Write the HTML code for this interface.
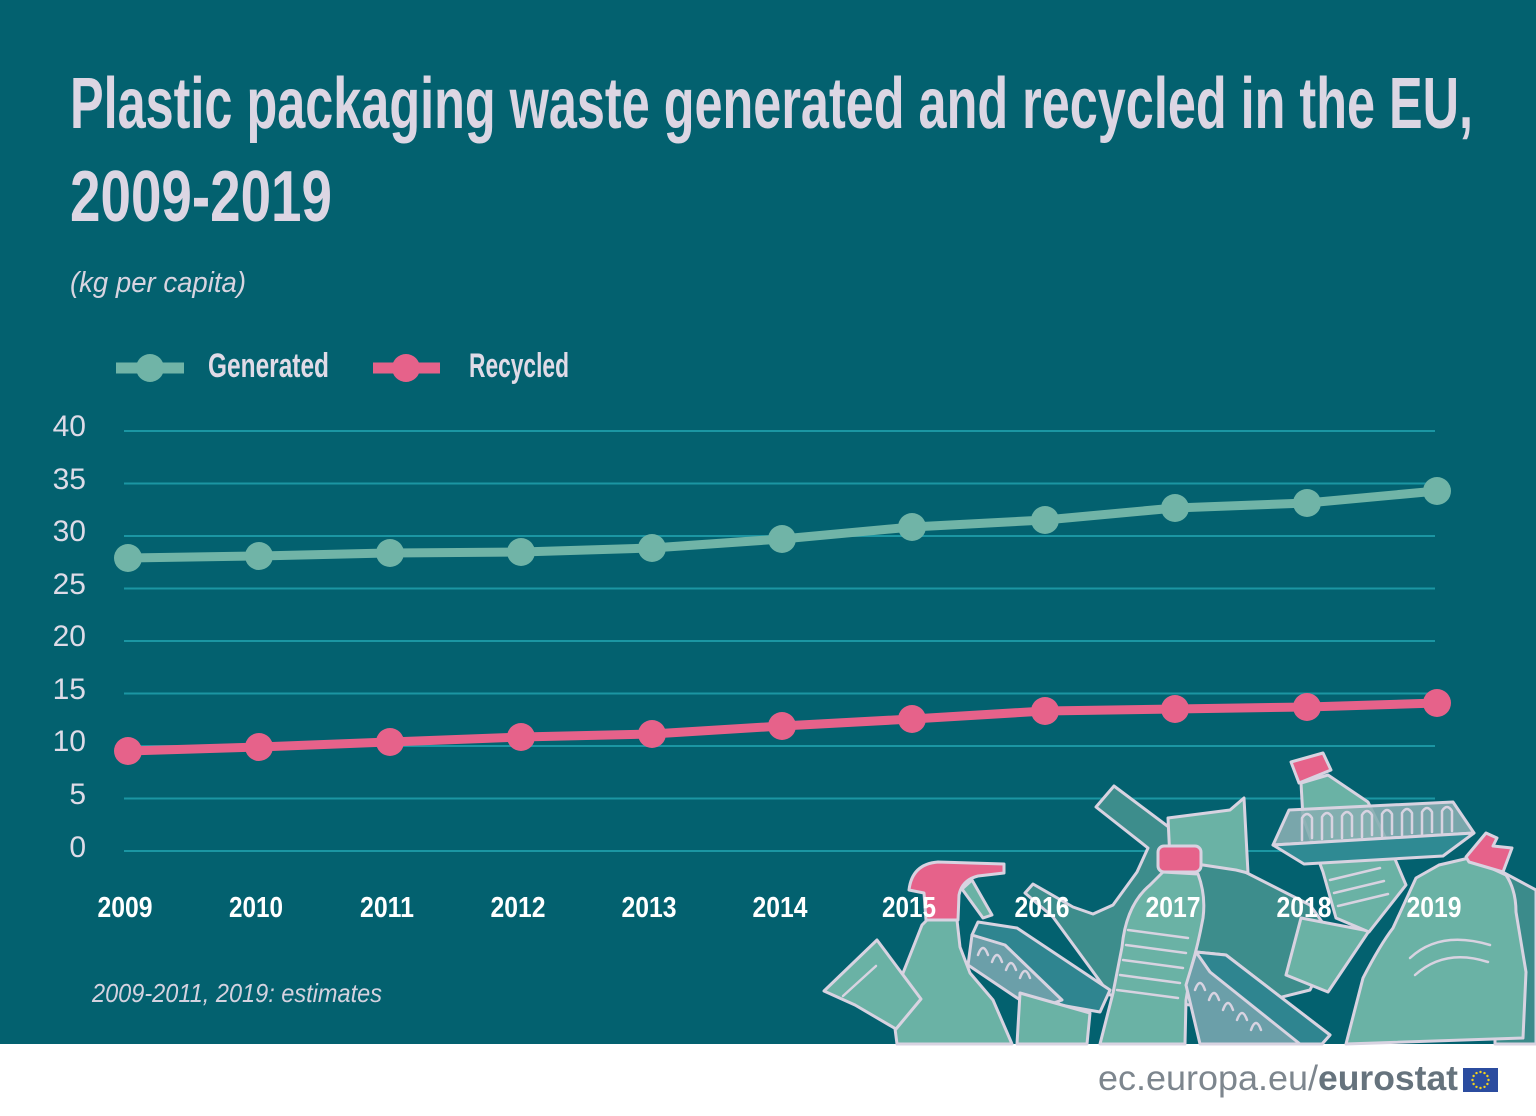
<!DOCTYPE html>
<html>
<head>
<meta charset="utf-8">
<style>
  html, body { margin: 0; padding: 0; background: #ffffff; }
  body { width: 1536px; height: 1116px; overflow: hidden; }
  svg { display: block; }
</style>
</head>
<body>
<svg width="1536" height="1116" viewBox="0 0 1536 1116" xmlns="http://www.w3.org/2000/svg" font-family="'Liberation Sans', sans-serif">
  <!-- backgrounds -->
  <rect x="0" y="0" width="1536" height="1044" fill="#03616f"/>
  <rect x="0" y="1044" width="1536" height="72" fill="#ffffff"/>

  <!-- title -->
  <text x="70" y="128" font-size="72" font-weight="bold" fill="#dcd6e3" textLength="1403" lengthAdjust="spacingAndGlyphs">Plastic packaging waste generated and recycled in the EU,</text>
  <text x="70" y="221" font-size="72" font-weight="bold" fill="#dcd6e3" textLength="262" lengthAdjust="spacingAndGlyphs">2009-2019</text>
  <text x="70" y="292" font-size="29" font-style="italic" fill="#d8d4e0" textLength="176" lengthAdjust="spacingAndGlyphs">(kg per capita)</text>

  <!-- legend -->
  <line x1="116" y1="368" x2="184" y2="368" stroke="#70b4a7" stroke-width="11"/>
  <circle cx="150" cy="368" r="14" fill="#70b4a7"/>
  <text x="208" y="377" font-size="34" font-weight="bold" fill="#e0dbe7" textLength="121" lengthAdjust="spacingAndGlyphs">Generated</text>
  <line x1="373" y1="368" x2="440" y2="368" stroke="#e6628a" stroke-width="11"/>
  <circle cx="406" cy="368" r="14" fill="#e6628a"/>
  <text x="469" y="377" font-size="34" font-weight="bold" fill="#e0dbe7" textLength="100" lengthAdjust="spacingAndGlyphs">Recycled</text>

  <!-- gridlines -->
  <g stroke="#1b96a3" stroke-width="2">
    <line x1="124" y1="431" x2="1435" y2="431"/>
    <line x1="124" y1="483.5" x2="1435" y2="483.5"/>
    <line x1="124" y1="536" x2="1435" y2="536"/>
    <line x1="124" y1="588.5" x2="1435" y2="588.5"/>
    <line x1="124" y1="641" x2="1435" y2="641"/>
    <line x1="124" y1="693.5" x2="1435" y2="693.5"/>
    <line x1="124" y1="746" x2="1435" y2="746"/>
    <line x1="124" y1="798.5" x2="1435" y2="798.5"/>
    <line x1="124" y1="851" x2="1435" y2="851"/>
  </g>

  <!-- y labels -->
  <g font-size="30" fill="#dedbe7" text-anchor="end">
    <text x="86" y="436">40</text>
    <text x="86" y="489">35</text>
    <text x="86" y="541">30</text>
    <text x="86" y="594">25</text>
    <text x="86" y="646">20</text>
    <text x="86" y="699">15</text>
    <text x="86" y="751">10</text>
    <text x="86" y="804">5</text>
    <text x="86" y="857">0</text>
  </g>

  <!-- illustration -->
  <g stroke="#d8d3e1" stroke-width="3" stroke-linejoin="round" stroke-linecap="round">
    <!-- far right dark piece -->
    <polygon points="1495,868 1536,890 1536,1044 1495,1044" fill="#3b8b8b"/>
    <!-- big jug -->
    <polygon points="1096,807 1114,786 1170,828 1245,872 1310,905 1335,940 1310,990 1230,1010 1110,995 1053,917 1025,893 1033,884 1073,907 1093,914 1113,905 1137,872 1148,848" fill="#3d8d8c"/>
    <!-- tray 1 -->
    <polygon points="978,922 1017,928 1110,990 1100,1012 1060,1005 972,935" fill="#2f8590"/>
    <polygon points="972,935 1005,945 1062,1000 1035,1010 968,965" fill="#6b9fa9"/>
    <path d="M978,955 q5,-14 10,0 M992,962 q5,-14 10,0 M1006,970 q5,-14 10,0 M1020,978 q5,-14 10,0" fill="none" stroke-width="2.5"/>
    <!-- spray bottle body -->
    <polygon points="927,920 957,920 960,947 970,973 993,1000 1012,1044 897,1044 893,1013 903,973 922,925" fill="#6ab2a5"/>
    <!-- nozzle tip -->
    <polygon points="962,889 972,880 992,915 983,918" fill="#6ab2a5"/>
    <!-- spray head -->
    <path d="M909,890 Q912,864 938,862 L1004,864 L1004,873 L978,876 Q962,880 959,895 L958,920 L926,920 L924,893 Z" fill="#e6628a"/>
    <!-- cup left -->
    <polygon points="824,991 877,940 921,999 896,1029 855,1005" fill="#6ab2a5"/>
    <line x1="843" y1="996" x2="876" y2="966" stroke-width="2.5"/>
    <!-- mint box bottom -->
    <polygon points="1020,993 1090,1013 1087,1044 1017,1044" fill="#6ab2a5"/>
    <!-- cup upper -->
    <polygon points="1168,818 1230,810 1244,798 1248,873 1236,870 1170,860" fill="#6ab2a5"/>
    <!-- 2017 bottle -->
    <path d="M1163,872 L1198,874 Q1206,895 1203,918 Q1198,945 1192,965 L1186,1000 L1185,1044 L1100,1044 L1113,993 L1122,947 Q1126,905 1150,885 Z" fill="#6ab2a5"/>
    <g stroke-width="2.5">
      <line x1="1128" y1="930" x2="1188" y2="938"/>
      <line x1="1126" y1="945" x2="1186" y2="953"/>
      <line x1="1123" y1="960" x2="1183" y2="968"/>
      <line x1="1120" y1="975" x2="1180" y2="983"/>
      <line x1="1117" y1="990" x2="1178" y2="998"/>
    </g>
    <rect x="1158" y="846" width="43" height="26" rx="6" fill="#e6628a"/>
    <!-- tray 2 -->
    <polygon points="1196,952 1226,955 1330,1035 1322,1044 1200,1044 1186,985" fill="#6b9fa9"/>
    <polygon points="1196,952 1226,955 1330,1035 1322,1044 1300,1044 1210,972" fill="#2f8590"/>
    <path d="M1195,990 q5,-14 10,0 M1209,1000 q5,-14 10,0 M1223,1010 q5,-14 10,0 M1237,1020 q5,-14 10,0 M1251,1030 q5,-14 10,0" fill="none" stroke-width="2.5"/>
    <!-- cup right-middle -->
    <polygon points="1301,918 1369,931 1328,992 1286,975" fill="#6ab2a5"/>
    <!-- 2018 bottle -->
    <polygon points="1301,783 1328,775 1368,802 1389,845 1406,885 1369,932 1336,918 1323,872 1303,818" fill="#6ab2a5"/>
    <g stroke-width="2.5">
      <line x1="1330" y1="880" x2="1380" y2="868"/>
      <line x1="1334" y1="893" x2="1384" y2="881"/>
      <line x1="1338" y1="906" x2="1388" y2="894"/>
    </g>
    <!-- clear container -->
    <polygon points="1289,810 1453,802 1474,833 1273,845" fill="#86aeb1" fill-opacity="0.9"/>
    <polygon points="1273,845 1474,833 1443,856 1304,864" fill="#2f8a93"/>
    <path d="M1302,840 v-22 q5,-8 10,0 v20 M1322,839 v-22 q5,-8 10,0 v20 M1342,838 v-22 q5,-8 10,0 v20 M1362,837 v-22 q5,-8 10,0 v20 M1382,836 v-22 q5,-8 10,0 v20 M1402,835 v-22 q5,-8 10,0 v20 M1422,834 v-22 q5,-8 10,0 v20 M1442,833 v-22 q5,-8 10,0 v20" fill="none" stroke-width="2.5"/>
    <!-- 2018 cap -->
    <polygon points="1291,762 1323,753 1331,770 1299,783" fill="#e6628a"/>
    <!-- 2019 bottle -->
    <path d="M1416,878 L1439,865 L1469,858 L1506,875 Q1516,890 1516,912 L1526,972 L1523,1038 L1346,1044 L1363,978 Q1380,945 1393,928 Z" fill="#6ab2a5"/>
    <path d="M1410,958 Q1440,930 1490,945 M1415,975 Q1445,948 1488,962" fill="none" stroke-width="2.5"/>
    <!-- 2019 cap -->
    <polygon points="1466,857 1486,833 1497,838 1493,846 1512,848 1503,872 1469,862" fill="#e6628a"/>
  </g>

  <!-- series lines -->
  <polyline points="128,558 259,556 390,553 521,552 652,548 782,539 912,527 1045,520 1175,508 1307,503 1437,491" fill="none" stroke="#70b4a7" stroke-width="9" stroke-linejoin="round"/>
  <g fill="#70b4a7">
    <circle cx="128" cy="558" r="14"/>
    <circle cx="259" cy="556" r="14"/>
    <circle cx="390" cy="553" r="14"/>
    <circle cx="521" cy="552" r="14"/>
    <circle cx="652" cy="548" r="14"/>
    <circle cx="782" cy="539" r="14"/>
    <circle cx="912" cy="527" r="14"/>
    <circle cx="1045" cy="520" r="14"/>
    <circle cx="1175" cy="508" r="14"/>
    <circle cx="1307" cy="503" r="14"/>
    <circle cx="1437" cy="491" r="14"/>
  </g>
  <polyline points="128,751 259,747 390,742 521,737 652,734 782,726 912,719 1045,711 1175,709 1307,707 1437,703" fill="none" stroke="#e6628a" stroke-width="9" stroke-linejoin="round"/>
  <g fill="#e6628a">
    <circle cx="128" cy="751" r="14"/>
    <circle cx="259" cy="747" r="14"/>
    <circle cx="390" cy="742" r="14"/>
    <circle cx="521" cy="737" r="14"/>
    <circle cx="652" cy="734" r="14"/>
    <circle cx="782" cy="726" r="14"/>
    <circle cx="912" cy="719" r="14"/>
    <circle cx="1045" cy="711" r="14"/>
    <circle cx="1175" cy="709" r="14"/>
    <circle cx="1307" cy="707" r="14"/>
    <circle cx="1437" cy="703" r="14"/>
  </g>

  <!-- x labels -->
  <g font-size="29" font-weight="bold" fill="#ffffff" text-anchor="middle">
    <text x="125" y="917" textLength="55" lengthAdjust="spacingAndGlyphs">2009</text>
    <text x="256" y="917" textLength="54" lengthAdjust="spacingAndGlyphs">2010</text>
    <text x="387" y="917" textLength="54" lengthAdjust="spacingAndGlyphs">2011</text>
    <text x="518" y="917" textLength="55" lengthAdjust="spacingAndGlyphs">2012</text>
    <text x="649" y="917" textLength="55" lengthAdjust="spacingAndGlyphs">2013</text>
    <text x="780" y="917" textLength="55" lengthAdjust="spacingAndGlyphs">2014</text>
    <text x="909" y="917" textLength="54" lengthAdjust="spacingAndGlyphs">2015</text>
    <text x="1042" y="917" textLength="55" lengthAdjust="spacingAndGlyphs">2016</text>
    <text x="1173" y="917" textLength="55" lengthAdjust="spacingAndGlyphs">2017</text>
    <text x="1304" y="917" textLength="55" lengthAdjust="spacingAndGlyphs">2018</text>
    <text x="1434" y="917" textLength="55" lengthAdjust="spacingAndGlyphs">2019</text>
  </g>

  <!-- footnote -->
  <text x="92" y="1002" font-size="26" font-style="italic" fill="#d4d2df" textLength="290" lengthAdjust="spacingAndGlyphs">2009-2011, 2019: estimates</text>

  <!-- footer -->
  <text x="1098" y="1090" font-size="35" fill="#7d868e" textLength="220" lengthAdjust="spacingAndGlyphs">ec.europa.eu/</text>
  <text x="1318" y="1090" font-size="35" font-weight="bold" fill="#66737d" textLength="140" lengthAdjust="spacingAndGlyphs">eurostat</text>
  <rect x="1463" y="1068" width="35" height="24" fill="#2b4c9f"/>
  <g fill="#f4d31a">
    <circle cx="1480.5" cy="1072" r="1.2"/>
    <circle cx="1484.5" cy="1073.1" r="1.2"/>
    <circle cx="1487.4" cy="1076" r="1.2"/>
    <circle cx="1488.5" cy="1080" r="1.2"/>
    <circle cx="1487.4" cy="1084" r="1.2"/>
    <circle cx="1484.5" cy="1086.9" r="1.2"/>
    <circle cx="1480.5" cy="1088" r="1.2"/>
    <circle cx="1476.5" cy="1086.9" r="1.2"/>
    <circle cx="1473.6" cy="1084" r="1.2"/>
    <circle cx="1472.5" cy="1080" r="1.2"/>
    <circle cx="1473.6" cy="1076" r="1.2"/>
    <circle cx="1476.5" cy="1073.1" r="1.2"/>
  </g>
</svg>
</body>
</html>
